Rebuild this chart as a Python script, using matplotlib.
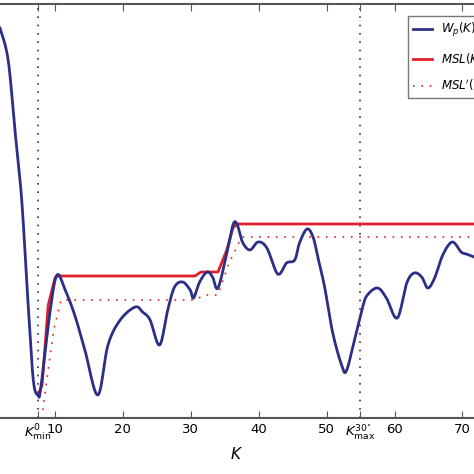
import matplotlib
matplotlib.use("Agg")
import matplotlib.pyplot as plt
import numpy as np

K_w = [1.9,3.1,4.1,5.1,6.0,6.8,7.5,7.9,9.3,10.3,11.5,12.9,14.4,16.3,17.8,19.6,21.8,22.9,24.0,25.4,26.6,27.6,28.8,29.9,30.4,31.3,32.4,33.2,34.0,35.3,36.2,36.8,37.6,38.7,39.9,41.2,42.8,44.1,45.3,46.0,47.1,48.0,48.7,49.7,50.9,52.2,52.9,54.1,55.3,56.0,57.5,58.8,60.4,61.8,62.9,64.0,64.9,65.9,67.1,68.5,69.8,70.6,71.7]
W_px = [28,60,130,200,300,380,395,388,310,275,290,315,350,395,345,320,307,312,320,345,310,287,282,290,298,282,272,277,288,253,225,224,242,250,242,248,274,263,260,243,229,237,257,287,333,365,371,340,307,295,288,298,318,283,273,277,288,278,255,242,252,254,257]

K_msl = [7.5,8.1,9.0,10.0,10.3,30.6,31.5,34.0,35.3,36.2,36.8,71.7]
MSL_px = [395,385,305,278,276,276,272,272,250,228,224,224]

K_msl2 = [8.2,9.0,9.8,10.9,30.6,32.0,34.0,35.5,37.5,71.7]
MSL2_px = [410,370,330,300,300,295,295,265,237,237]

K_min0 = 7.5
K_max30 = 54.9
ticks = [10,20,30,40,50,60,70]

def val(px):
    return [418 - p for p in px]

def smooth(x, y, n=12):
    # Catmull-Rom drawing through the read points
    x = np.asarray(x, float); y = np.asarray(y, float)
    P = np.column_stack([x, y])
    P = np.vstack([P[0], P, P[-1]])
    out = []
    t = np.linspace(0, 1, n, endpoint=False)
    for i in range(1, len(P) - 2):
        p0, p1, p2, p3 = P[i-1], P[i], P[i+1], P[i+2]
        tt = t[:, None]
        seg = 0.5 * ((2*p1) + (-p0 + p2)*tt + (2*p0 - 5*p1 + 4*p2 - p3)*tt**2 + (-p0 + 3*p1 - 3*p2 + p3)*tt**3)
        out.append(seg)
    out.append(P[-2][None, :])
    out = np.vstack(out)
    return out[:, 0], out[:, 1]

W = 474
fig = plt.figure(figsize=(W/100, W/100), dpi=100)
ax = fig.add_axes([0, 56/W, 1, 414/W])
blue = '#2b2f86'
red = '#e0202a'
sx, sy = smooth(K_w, val(W_px))
ax.plot(sx, sy, color=blue, lw=2, zorder=3)
ax.plot(K_msl, val(MSL_px), color=red, lw=2, zorder=2)
ax.plot(K_msl2, val(MSL2_px), color=red, lw=1.2, ls=(0, (1, 4)), zorder=2)
for k in (K_min0, K_max30):
    ax.axvline(k, color='#333333', lw=1.2, ls=(0, (1, 4)), zorder=1)

ax.set_xlim(1.9, 71.7)
ax.set_ylim(0, 414)
ax.set_yticks([])
labs = [r'$K^{0}_{\min}$', r'$K^{30^{\circ}}_{\max}$']
ax.set_xticks(ticks + [K_min0, K_max30])
ax.set_xticklabels([str(t) for t in ticks] + labs, fontsize=9.5)
ax.tick_params(axis='x', direction='in', length=5, color='#555555', top=True)
for s in ['left', 'right']:
    ax.spines[s].set_visible(False)
for s in ['top', 'bottom']:
    ax.spines[s].set_color('#555555')
    ax.spines[s].set_linewidth(1.5)
ax.set_xlabel(r'$K$', fontsize=11, labelpad=2)

from matplotlib.lines import Line2D
handles = [Line2D([], [], color=blue, lw=2),
           Line2D([], [], color=red, lw=2),
           Line2D([], [], color=red, lw=1.2, ls=(0, (1, 4)))]
ax.legend(handles, [r'$W_p(K)$', r'$MSL(K)$', r"$MSL'(K)$"],
          loc='upper left', bbox_to_anchor=(402/W, 0.985), fontsize=8.5,
          frameon=True, fancybox=False, edgecolor='#555555', handlelength=1.6,
          labelspacing=1.0)
fig.savefig('out.png', dpi=100)
